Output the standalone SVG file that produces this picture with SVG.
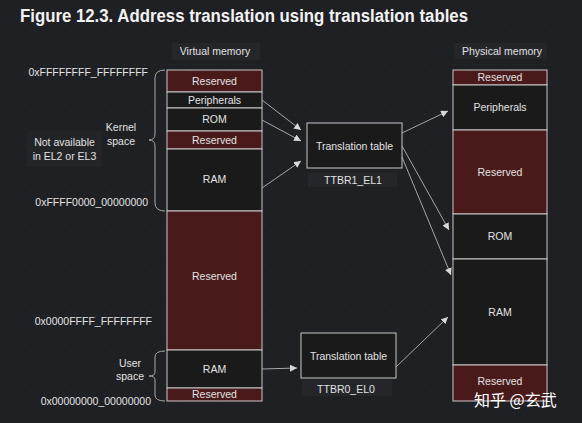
<svg xmlns="http://www.w3.org/2000/svg" width="582" height="423" viewBox="0 0 582 423">
  <defs>
    <pattern id="dots" width="10" height="10" patternUnits="userSpaceOnUse">
      <rect x="4" y="4" width="1" height="1" fill="#2c2d31"/>
    </pattern>
    <marker id="arr" viewBox="0 0 8 8" refX="8" refY="4" markerWidth="7" markerHeight="7" markerUnits="userSpaceOnUse" orient="auto">
      <path d="M0,0 L8,4 L0,8 Z" fill="#d8d8d8"/>
    </marker>
    <style>
      text { font-family: "Liberation Sans", Arial, sans-serif; fill: #e2e2e2; }
      .t { font-size: 10.5px; text-anchor: middle; dominant-baseline: central; }
      .addr { font-size: 10.5px; text-anchor: end; dominant-baseline: central; }
      .cell { stroke: #c8c8c8; stroke-width: 1; }
      .res { fill: #4a1a1b; }
      .drk { fill: #1a1a1b; }
      .lbl { fill: #25262a; }
      .brace { fill: none; stroke: #a8a8a8; stroke-width: 1; }
      .conn { fill: none; stroke: #b4b4b4; stroke-width: 0.9; marker-end: url(#arr); }
    </style>
  </defs>

  <rect width="582" height="423" fill="#1f2023"/>
  <rect width="582" height="423" fill="url(#dots)"/>

  <text x="20" y="21.5" font-size="18" font-weight="bold" textLength="448" lengthAdjust="spacingAndGlyphs" style="fill:#f2f2f2">Figure 12.3. Address translation using translation tables</text>

  <g id="virtual-title">
    <rect class="lbl" x="172" y="43" width="88" height="17"/>
    <text class="t" x="215" y="50.5">Virtual memory</text>
  </g>
  <g id="physical-title">
    <rect class="lbl" x="455" y="43" width="92" height="16"/>
    <text class="t" x="502" y="50.5">Physical memory</text>
  </g>

  <g id="virtual-memory">
    <rect class="cell res" x="167" y="70" width="95" height="22"/>
    <text class="t" x="214.5" y="81">Reserved</text>
    <rect class="cell drk" x="167" y="92" width="95" height="16"/>
    <text class="t" x="214.5" y="100">Peripherals</text>
    <rect class="cell drk" x="167" y="108" width="95" height="23"/>
    <text class="t" x="214.5" y="119">ROM</text>
    <rect class="cell res" x="167" y="131" width="95" height="18"/>
    <text class="t" x="214.5" y="140">Reserved</text>
    <rect class="cell drk" x="167" y="149" width="95" height="62"/>
    <text class="t" x="214.5" y="179">RAM</text>
    <rect class="cell res" x="167" y="211" width="95" height="139"/>
    <text class="t" x="214.5" y="276">Reserved</text>
    <rect class="cell drk" x="167" y="350" width="95" height="38"/>
    <text class="t" x="214.5" y="369">RAM</text>
    <rect class="cell res" x="167" y="388" width="95" height="13"/>
    <text class="t" x="214.5" y="394">Reserved</text>
  </g>

  <g id="physical-memory">
    <rect class="cell res" x="453" y="70" width="94" height="15"/>
    <text class="t" x="500" y="77">Reserved</text>
    <rect class="cell drk" x="453" y="85" width="94" height="45"/>
    <text class="t" x="500" y="107">Peripherals</text>
    <rect class="cell res" x="453" y="130" width="94" height="84"/>
    <text class="t" x="500" y="172">Reserved</text>
    <rect class="cell drk" x="453" y="214" width="94" height="45"/>
    <text class="t" x="500" y="236">ROM</text>
    <rect class="cell drk" x="453" y="259" width="94" height="106"/>
    <text class="t" x="500" y="312">RAM</text>
    <rect class="cell res" x="453" y="365" width="94" height="36"/>
    <text class="t" x="500" y="381">Reserved</text>
  </g>

  <g id="translation-table-1">
    <rect class="cell drk" x="307" y="123" width="95" height="45"/>
    <text class="t" x="354.5" y="145.5">Translation table</text>
    <rect class="lbl" x="308" y="173" width="89" height="14"/>
    <text class="t" x="353" y="180">TTBR1_EL1</text>
  </g>

  <g id="translation-table-0">
    <rect class="cell drk" x="301" y="333" width="95" height="45"/>
    <text class="t" x="348.5" y="355.5">Translation table</text>
    <rect class="lbl" x="302" y="380" width="90" height="16"/>
    <text class="t" x="346" y="389">TTBR0_EL0</text>
  </g>

  <g id="kernel-space">
    <path class="brace" d="M165,70 Q155,70 155,78 L155,134 Q155,140 149,140 Q155,140 155,146 L155,203 Q155,211 165,211"/>
    <text class="t" x="121" y="127">Kernel</text>
    <text class="t" x="121" y="141">space</text>
  </g>

  <g id="user-space">
    <path class="brace" d="M165,351 Q155,351 155,357 L155,372 Q155,376 149,376 Q155,376 155,380 L155,395 Q155,401 165,401"/>
    <text class="t" x="130" y="363">User</text>
    <text class="t" x="130" y="376">space</text>
  </g>

  <g id="not-available">
    <rect x="27" y="131" width="75" height="36" fill="#232427"/>
    <text class="t" x="64.5" y="142">Not available</text>
    <text class="t" x="64.5" y="156">in EL2 or EL3</text>
  </g>

  <g id="addresses">
    <text class="addr" x="148" y="72">0xFFFFFFFF_FFFFFFFF</text>
    <text class="addr" x="148" y="202">0xFFFF0000_00000000</text>
    <text class="addr" x="152" y="321">0x0000FFFF_FFFFFFFF</text>
    <text class="addr" x="151" y="401">0x00000000_00000000</text>
  </g>

  <g id="connectors">
    <line class="conn" x1="262" y1="100" x2="301" y2="130"/>
    <line class="conn" x1="262" y1="120" x2="301" y2="141"/>
    <line class="conn" x1="262" y1="188" x2="301" y2="161"/>
    <line class="conn" x1="402" y1="133" x2="448" y2="111"/>
    <line class="conn" x1="402" y1="146" x2="449" y2="230"/>
    <line class="conn" x1="402" y1="157" x2="451" y2="275"/>
    <line class="conn" x1="396" y1="367" x2="448" y2="317"/>
    <line class="conn" x1="262" y1="369" x2="297" y2="368"/>
  </g>

  <text x="474" y="406" font-size="16" style="fill:#ffffff;font-family:'Noto Sans CJK SC','Liberation Sans',sans-serif">知乎 @玄武</text>
</svg>
